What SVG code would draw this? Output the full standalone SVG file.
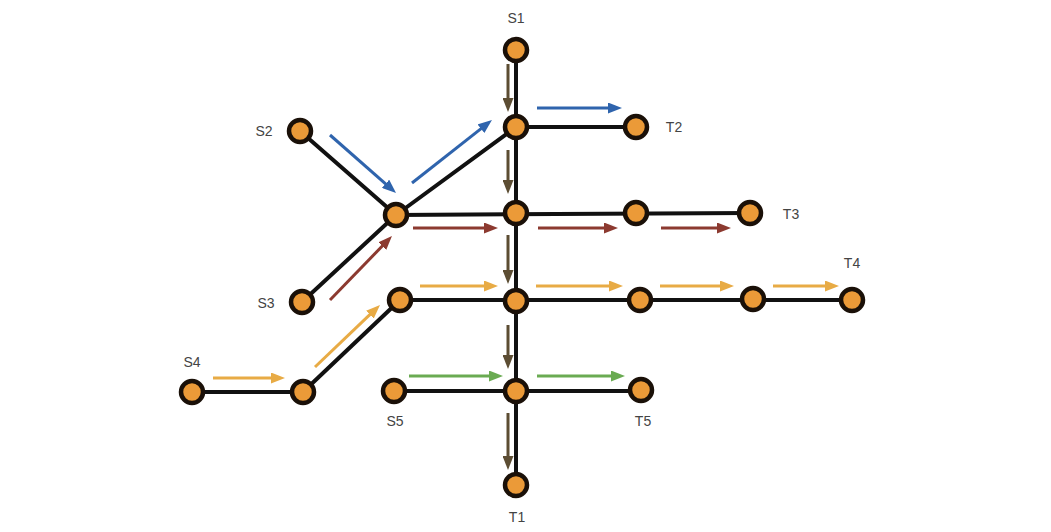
<svg xmlns="http://www.w3.org/2000/svg" width="1051" height="532" viewBox="0 0 1051 532">
<style>
.edge{stroke:#111;stroke-width:4;fill:none;stroke-linecap:round}
.node{fill:#eb9a38;stroke:#1a1008;stroke-width:4.5}
.lbl{font-family:"Liberation Sans",Arial,sans-serif;font-size:14px;fill:#444;text-anchor:middle}
.a{stroke-width:3;fill:none}
.brown{stroke:#5c4d33;marker-end:url(#mBrown)}
.blue{stroke:#2f64ad;marker-end:url(#mBlue)}
.red{stroke:#8c3a30;marker-end:url(#mRed)}
.orange{stroke:#e8ab45;marker-end:url(#mOrange)}
.green{stroke:#6aab52;marker-end:url(#mGreen)}
</style>
<defs>
<marker id="mBrown" markerUnits="userSpaceOnUse" markerWidth="14" markerHeight="11" refX="5" refY="5.5" orient="auto"><path d="M0,0 L14,5.5 L0,11 z" fill="#5c4d33"/></marker>
<marker id="mBlue" markerUnits="userSpaceOnUse" markerWidth="14" markerHeight="11" refX="5" refY="5.5" orient="auto"><path d="M0,0 L14,5.5 L0,11 z" fill="#2f64ad"/></marker>
<marker id="mRed" markerUnits="userSpaceOnUse" markerWidth="14" markerHeight="11" refX="5" refY="5.5" orient="auto"><path d="M0,0 L14,5.5 L0,11 z" fill="#8c3a30"/></marker>
<marker id="mOrange" markerUnits="userSpaceOnUse" markerWidth="14" markerHeight="11" refX="5" refY="5.5" orient="auto"><path d="M0,0 L14,5.5 L0,11 z" fill="#e8ab45"/></marker>
<marker id="mGreen" markerUnits="userSpaceOnUse" markerWidth="14" markerHeight="11" refX="5" refY="5.5" orient="auto"><path d="M0,0 L14,5.5 L0,11 z" fill="#6aab52"/></marker>
</defs>
<rect width="1051" height="532" fill="#fff"/>
<g id="connectors">
<g id="edges">
<line class="edge" x1="516" y1="50" x2="516" y2="485"/>
<line class="edge" x1="516" y1="127" x2="636" y2="127"/>
<line class="edge" x1="300" y1="131" x2="396" y2="215"/>
<line class="edge" x1="396" y1="215" x2="516" y2="127"/>
<line class="edge" x1="396" y1="215" x2="750" y2="213"/>
<line class="edge" x1="302" y1="302" x2="396" y2="215"/>
<line class="edge" x1="400" y1="300" x2="852" y2="300"/>
<line class="edge" x1="192" y1="392" x2="303" y2="392"/>
<line class="edge" x1="303" y1="392" x2="400" y2="300"/>
<line class="edge" x1="394" y1="391" x2="641" y2="391"/>
</g>
<g id="flows">
<line class="a brown" x1="508" y1="64" x2="508" y2="103"/>
<line class="a brown" x1="508" y1="150" x2="508" y2="185"/>
<line class="a brown" x1="508" y1="235" x2="508" y2="275"/>
<line class="a brown" x1="508" y1="325" x2="508" y2="360"/>
<line class="a brown" x1="508" y1="413" x2="508" y2="461"/>
<line class="a blue" x1="330" y1="135" x2="389.3" y2="187.1"/>
<line class="a blue" x1="412" y1="183" x2="484.9" y2="125.6"/>
<line class="a blue" x1="537" y1="108" x2="613" y2="108"/>
<line class="a red" x1="330" y1="300" x2="385.7" y2="242.5"/>
<line class="a red" x1="413" y1="228" x2="489" y2="228"/>
<line class="a red" x1="538" y1="228" x2="609" y2="228"/>
<line class="a red" x1="661" y1="228" x2="722" y2="228"/>
<line class="a orange" x1="213" y1="378" x2="276" y2="378"/>
<line class="a orange" x1="315" y1="367" x2="373.5" y2="311.2"/>
<line class="a orange" x1="420" y1="286" x2="489" y2="286"/>
<line class="a orange" x1="536" y1="286" x2="614" y2="286"/>
<line class="a orange" x1="660" y1="286" x2="725" y2="286"/>
<line class="a orange" x1="773" y1="286" x2="830" y2="286"/>
<line class="a green" x1="409" y1="376" x2="494" y2="376"/>
<line class="a green" x1="537" y1="376" x2="616" y2="376"/>
</g>
</g>
<g id="S1"><circle class="node" cx="516" cy="50" r="11"/><text class="lbl" x="516" y="23">S1</text></g>
<g id="J1"><circle class="node" cx="516" cy="127" r="11"/></g>
<g id="T2"><circle class="node" cx="636" cy="127" r="11"/><text class="lbl" x="674" y="132">T2</text></g>
<g id="S2"><circle class="node" cx="300" cy="131" r="11"/><text class="lbl" x="264" y="136">S2</text></g>
<g id="HUB"><circle class="node" cx="396" cy="215" r="11"/></g>
<g id="J2"><circle class="node" cx="516" cy="213" r="11"/></g>
<g id="M3"><circle class="node" cx="636" cy="213" r="11"/></g>
<g id="T3"><circle class="node" cx="750" cy="213" r="11"/><text class="lbl" x="791" y="219">T3</text></g>
<g id="S3"><circle class="node" cx="302" cy="302" r="11"/><text class="lbl" x="266" y="308">S3</text></g>
<g id="N4"><circle class="node" cx="400" cy="300" r="11"/></g>
<g id="J3"><circle class="node" cx="516" cy="301" r="11"/></g>
<g id="M4a"><circle class="node" cx="640" cy="300" r="11"/></g>
<g id="M4b"><circle class="node" cx="753" cy="299" r="11"/></g>
<g id="T4"><circle class="node" cx="852" cy="300" r="11"/><text class="lbl" x="852" y="268">T4</text></g>
<g id="S4"><circle class="node" cx="192" cy="392" r="11"/><text class="lbl" x="192" y="367">S4</text></g>
<g id="N5"><circle class="node" cx="303" cy="392" r="11"/></g>
<g id="S5"><circle class="node" cx="394" cy="391" r="11"/><text class="lbl" x="395" y="426">S5</text></g>
<g id="J4"><circle class="node" cx="516" cy="391" r="11"/></g>
<g id="T5"><circle class="node" cx="641" cy="390" r="11"/><text class="lbl" x="643" y="426">T5</text></g>
<g id="T1"><circle class="node" cx="516" cy="485" r="11"/><text class="lbl" x="517" y="522">T1</text></g>
</svg>
